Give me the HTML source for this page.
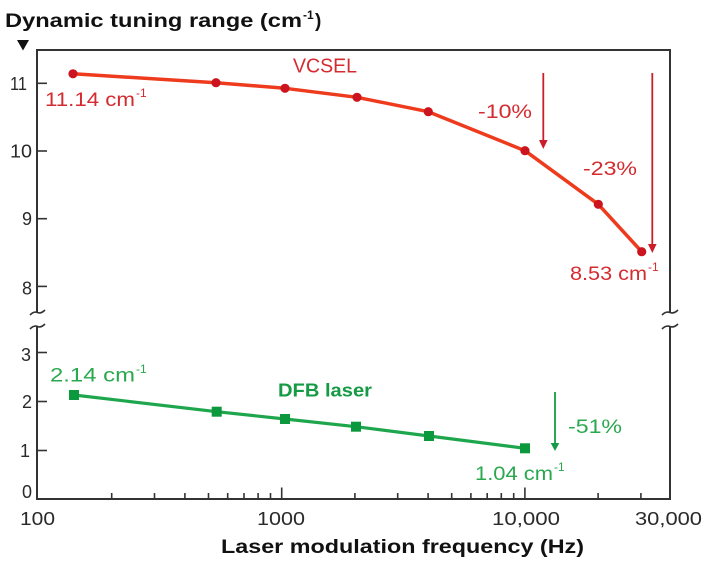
<!DOCTYPE html>
<html>
<head>
<meta charset="utf-8">
<style>
  html,body{margin:0;padding:0;background:#fff;}
  svg{display:block;}
  text{font-family:"Liberation Sans", sans-serif;}
</style>
</head>
<body>
<svg width="706" height="562" viewBox="0 0 706 562" xmlns="http://www.w3.org/2000/svg">
  <!-- Title -->
  <text x="5" y="27" font-size="19" font-weight="bold" fill="#111" textLength="297" lengthAdjust="spacingAndGlyphs">Dynamic tuning range (cm</text>
  <text x="303" y="19" font-size="12" font-weight="bold" fill="#111">-1</text>
  <text x="315" y="27" font-size="19" font-weight="bold" fill="#111">)</text>
  <polygon points="17,40 29,40 23,50.5" fill="#111"/>

  <!-- Frame / axes -->
  <g stroke="#333" stroke-width="2" fill="none">
    <line x1="37" y1="50" x2="671" y2="50"/>
    <line x1="37" y1="49" x2="37" y2="312"/>
    <line x1="37" y1="326" x2="37" y2="500"/>
    <line x1="36" y1="499" x2="671" y2="499"/>
    <line x1="670" y1="49" x2="670" y2="312"/>
    <line x1="670" y1="326" x2="670" y2="500"/>
    <!-- breaks -->
    <path d="M30,315 q4,-4 7.5,-2.5 t7.5,-2.5" stroke-width="1.6"/>
    <path d="M30,329 q4,-4 7.5,-2.5 t7.5,-2.5" stroke-width="1.6"/>
    <path d="M662,315 q4,-4 8,-2.5 t8,-2.5" stroke-width="1.6"/>
    <path d="M662,329 q4,-4 8,-2.5 t8,-2.5" stroke-width="1.6"/>
  </g>

  <!-- Y ticks -->
  <g stroke="#333" stroke-width="1.6">
    <line x1="37" y1="83.3" x2="47" y2="83.3"/>
    <line x1="37" y1="151" x2="47" y2="151"/>
    <line x1="37" y1="218.7" x2="47" y2="218.7"/>
    <line x1="37" y1="286.4" x2="47" y2="286.4"/>
    <line x1="37" y1="352.5" x2="47" y2="352.5"/>
    <line x1="37" y1="401.5" x2="47" y2="401.5"/>
    <line x1="37" y1="450.5" x2="47" y2="450.5"/>
  </g>
  <!-- X ticks -->
  <g stroke="#333" stroke-width="1.6">
    <line x1="111.7" y1="493" x2="111.7" y2="499"/>
    <line x1="154.5" y1="493" x2="154.5" y2="499"/>
    <line x1="184.9" y1="493" x2="184.9" y2="499"/>
    <line x1="208.5" y1="493" x2="208.5" y2="499"/>
    <line x1="227.7" y1="493" x2="227.7" y2="499"/>
    <line x1="244.0" y1="493" x2="244.0" y2="499"/>
    <line x1="258.1" y1="493" x2="258.1" y2="499"/>
    <line x1="270.5" y1="493" x2="270.5" y2="499"/>
    <line x1="281.7" y1="487.5" x2="281.7" y2="499"/>
    <line x1="354.9" y1="493" x2="354.9" y2="499"/>
    <line x1="397.7" y1="493" x2="397.7" y2="499"/>
    <line x1="428.1" y1="493" x2="428.1" y2="499"/>
    <line x1="451.7" y1="493" x2="451.7" y2="499"/>
    <line x1="470.9" y1="493" x2="470.9" y2="499"/>
    <line x1="487.2" y1="493" x2="487.2" y2="499"/>
    <line x1="501.3" y1="493" x2="501.3" y2="499"/>
    <line x1="513.7" y1="493" x2="513.7" y2="499"/>
    <line x1="524.9" y1="487.5" x2="524.9" y2="499"/>
    <line x1="598.1" y1="493" x2="598.1" y2="499"/>
    <line x1="640.9" y1="493" x2="640.9" y2="499"/>
  </g>

  <!-- Y tick labels -->
  <g font-size="18" fill="#2a2a2a">
    <text x="10" y="90" textLength="17" lengthAdjust="spacingAndGlyphs">11</text>
    <text x="10" y="157.5" textLength="22" lengthAdjust="spacingAndGlyphs">10</text>
    <text x="32" y="225" text-anchor="end">9</text>
    <text x="32" y="294.5" text-anchor="end">8</text>
    <text x="31" y="361" text-anchor="end">3</text>
    <text x="32" y="408" text-anchor="end">2</text>
    <text x="30" y="457" text-anchor="end">1</text>
    <text x="32" y="498" text-anchor="end">0</text>
  </g>
  <!-- X tick labels -->
  <g font-size="18" fill="#2a2a2a">
    <text x="20" y="525" textLength="35" lengthAdjust="spacingAndGlyphs">100</text>
    <text x="257" y="525" textLength="48" lengthAdjust="spacingAndGlyphs">1000</text>
    <text x="492" y="525" textLength="68" lengthAdjust="spacingAndGlyphs">10,000</text>
    <text x="635" y="525" textLength="67" lengthAdjust="spacingAndGlyphs">30,000</text>
  </g>
  <!-- X title -->
  <text x="221" y="553" font-size="19" font-weight="bold" fill="#111" textLength="363" lengthAdjust="spacingAndGlyphs">Laser modulation frequency (Hz)</text>

  <!-- VCSEL series -->
  <polyline points="73,73.8 216,82.7 285,88.3 357,97.3 428.3,111.7 525,150.7 598.3,204.3 641.7,251.7"
            fill="none" stroke="#ee3b1e" stroke-width="3.5" stroke-linejoin="round"/>
  <g fill="#cc1420">
    <circle cx="73" cy="73.8" r="4.6"/>
    <circle cx="216" cy="82.7" r="4.6"/>
    <circle cx="285" cy="88.3" r="4.6"/>
    <circle cx="357" cy="97.3" r="4.6"/>
    <circle cx="428.3" cy="111.7" r="4.6"/>
    <circle cx="525" cy="150.7" r="4.6"/>
    <circle cx="598.3" cy="204.3" r="4.6"/>
    <circle cx="641.7" cy="251.7" r="4.6"/>
  </g>

  <!-- DFB series -->
  <polyline points="74,395 216.7,411.7 285,419 356,426.7 429,436 525,448.3"
            fill="none" stroke="#1ea64c" stroke-width="3.2" stroke-linejoin="round"/>
  <g fill="#0c983c">
    <rect x="69" y="390" width="10" height="10"/>
    <rect x="211.7" y="406.7" width="10" height="10"/>
    <rect x="280" y="414" width="10" height="10"/>
    <rect x="351" y="421.7" width="10" height="10"/>
    <rect x="424" y="431" width="10" height="10"/>
    <rect x="520" y="443.3" width="10" height="10"/>
  </g>

  <!-- Red annotations -->
  <g fill="#d42b30">
    <text x="293" y="72.7" font-size="20" textLength="64" lengthAdjust="spacingAndGlyphs">VCSEL</text>
    <text x="45" y="106" font-size="19" textLength="90" lengthAdjust="spacingAndGlyphs">11.14 cm</text>
    <text x="136" y="97" font-size="12">-1</text>
    <text x="478" y="118" font-size="19" textLength="54" lengthAdjust="spacingAndGlyphs">-10%</text>
    <text x="583" y="175" font-size="19" textLength="54" lengthAdjust="spacingAndGlyphs">-23%</text>
    <text x="570" y="280" font-size="19" textLength="77" lengthAdjust="spacingAndGlyphs">8.53 cm</text>
    <text x="648" y="271" font-size="12">-1</text>
  </g>
  <g stroke="#cc1e28" stroke-width="1.8">
    <line x1="543.3" y1="73" x2="543.3" y2="141"/>
    <line x1="652.3" y1="73" x2="652.3" y2="245"/>
  </g>
  <g fill="#cc1e28">
    <polygon points="539,140 547.6,140 543.3,149"/>
    <polygon points="648,244 656.6,244 652.3,253"/>
  </g>

  <!-- Green annotations -->
  <g fill="#2aa84e">
    <text x="50" y="381.7" font-size="19" textLength="85" lengthAdjust="spacingAndGlyphs">2.14 cm</text>
    <text x="136" y="373" font-size="12">-1</text>
    <text x="568" y="433" font-size="19" textLength="54" lengthAdjust="spacingAndGlyphs">-51%</text>
    <text x="475" y="480" font-size="19" textLength="78" lengthAdjust="spacingAndGlyphs">1.04 cm</text>
    <text x="554" y="471" font-size="12">-1</text>
  </g>
  <text x="278" y="396.7" font-size="18" font-weight="bold" fill="#169a45" textLength="94" lengthAdjust="spacingAndGlyphs">DFB laser</text>
  <line x1="555" y1="392" x2="555" y2="444" stroke="#169a45" stroke-width="1.8"/>
  <polygon points="550.7,443 559.3,443 555,451" fill="#169a45"/>
</svg>
</body>
</html>
